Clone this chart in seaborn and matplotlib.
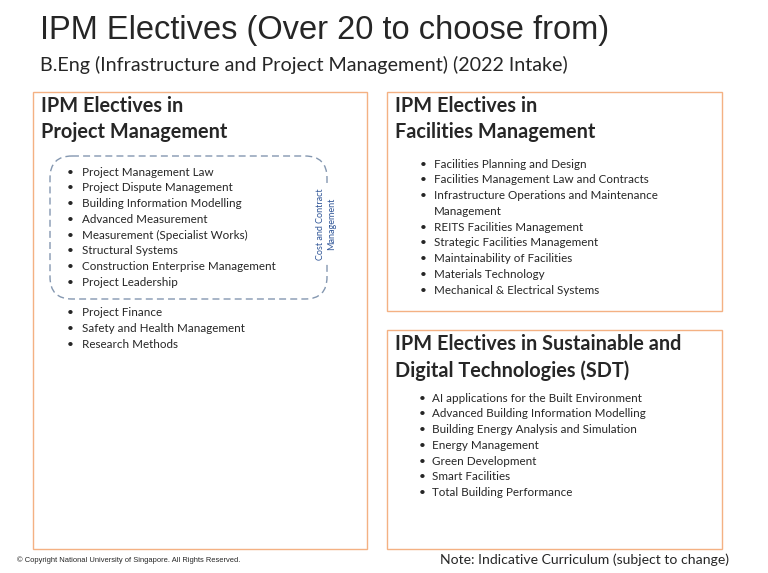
import matplotlib.pyplot as plt
import seaborn as sns
from matplotlib.patches import Rectangle, FancyBboxPatch

sns.set_theme(style="white")
plt.rcParams['font.family'] = ['Lato', 'DejaVu Sans']

title = "IPM Electives (Over 20 to choose from)"
subtitle = "B.Eng (Infrastructure and Project Management) (2022 Intake)"

pm_heading = "IPM Electives in\nProject Management"
pm_cost = ["Project Management Law", "Project Dispute Management",
           "Building Information Modelling", "Advanced Measurement",
           "Measurement (Specialist Works)", "Structural Systems",
           "Construction Enterprise Management", "Project Leadership"]
pm_other = ["Project Finance", "Safety and Health Management", "Research Methods"]

fm_heading = "IPM Electives in\nFacilities Management"
fm_items = ["Facilities Planning and Design", "Facilities Management Law and Contracts",
            "Infrastructure Operations and Maintenance", "Management",
            "REITS Facilities Management", "Strategic Facilities Management",
            "Maintainability of Facilities", "Materials Technology",
            "Mechanical & Electrical Systems"]
fm_bullet = [True, True, True, False, True, True, True, True, True]

sdt_heading = "IPM Electives in Sustainable and\nDigital Technologies (SDT)"
sdt_items = ["AI applications for the Built Environment", "Advanced Building Information Modelling",
             "Building Energy Analysis and Simulation", "Energy Management",
             "Green Development", "Smart Facilities", "Total Building Performance"]

fig = plt.figure(figsize=(7.68, 5.73), dpi=100)
ax = fig.add_axes([0, 0, 1, 1])
ax.set_xlim(0, 768)
ax.set_ylim(573, 0)
ax.axis("off")

orange = "#f4b183"
for x0, y0, x1, y1 in [(33, 92, 367, 549), (387, 92, 722, 311), (387, 330, 722, 549)]:
    ax.add_patch(Rectangle((x0, y0), x1 - x0, y1 - y0, fill=False, ec=orange, lw=1))

ax.add_patch(FancyBboxPatch((50, 156), 277, 143, boxstyle="round,pad=0,rounding_size=22",
                            fill=False, ec="#8497b0", lw=1, ls=(0, (5, 3))))
ax.text(326, 224, "Cost and Contract\nManagement", rotation=90, ha="center", va="center",
        fontsize=6.5, color="#2f5597", linespacing=1.2,
        bbox=dict(fc="white", ec="none", pad=1))

ax.text(40, 30, title, fontsize=23.5, va="center", family=["Liberation Sans", "DejaVu Sans"])
ax.text(40, 65, subtitle, fontsize=14.2, va="center")

def heading(x, y, s):
    ax.text(x, y, s, fontsize=14.3, fontweight="bold", va="top", linespacing=1.4)

def bullets(items, bx, tx, y0, flags=None, step=15.8):
    for i, s in enumerate(items):
        y = y0 + i * step
        if flags is None or flags[i]:
            ax.text(bx, y, "•", fontsize=8.4, va="center")
        ax.text(tx, y, s, fontsize=8.4, va="center")

heading(41, 96, pm_heading)
bullets(pm_cost, 67, 82, 172)
bullets(pm_other, 67, 82, 313)

heading(395, 96, fm_heading)
bullets(fm_items, 420, 434, 164, fm_bullet)

heading(395, 334, sdt_heading)
bullets(sdt_items, 419, 432, 398)

ax.text(17, 560, "© Copyright National University of Singapore. All Rights Reserved.",
        fontsize=5.4, va="center", family=["Liberation Sans", "DejaVu Sans"])
ax.text(440, 560, "Note: Indicative Curriculum (subject to change)", fontsize=10.1, va="center")

fig.savefig("out.png", dpi=100)
